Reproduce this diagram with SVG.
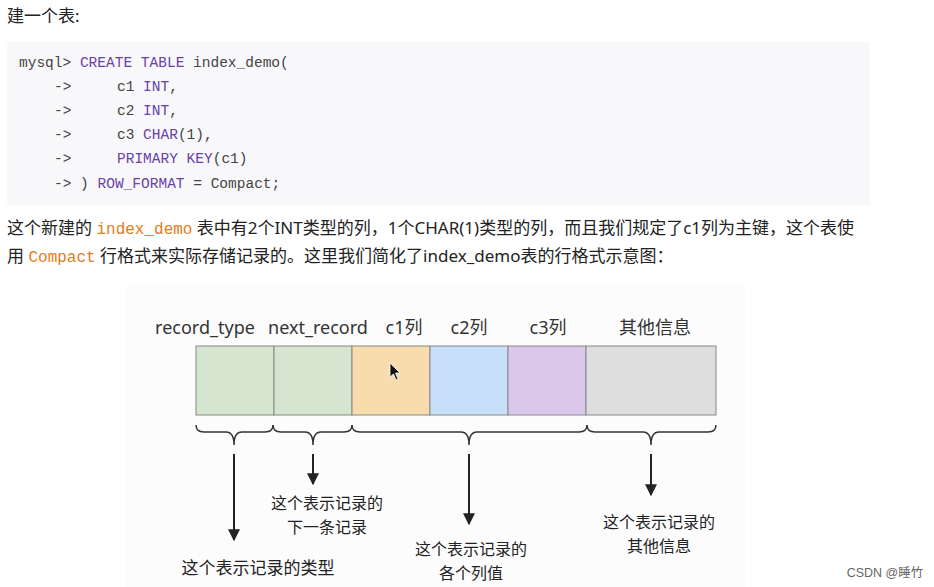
<svg xmlns="http://www.w3.org/2000/svg" width="934" height="587" viewBox="0 0 934 587">
<style>
.t{font-family:"Noto Sans","Noto Sans CJK SC",sans-serif;fill:#222}
.h{font-size:17px}
.p{font-size:17px}
.m{font-family:"Liberation Mono","Noto Sans CJK SC",monospace;font-size:14.5px;fill:#444}
.k{fill:#6b3fa8}
.o{font-family:"Liberation Mono",monospace;font-size:16px;fill:#e07c1a}
.lab{font-family:"Noto Sans","Noto Sans CJK SC",sans-serif;font-size:18px;fill:#333;text-anchor:middle}
.cap{font-family:"Noto Sans CJK SC",sans-serif;font-size:17px;fill:#222;text-anchor:middle}
.cap2{font-family:"Noto Sans CJK SC",sans-serif;font-size:16px;fill:#222;text-anchor:middle}
.cell{stroke:#888;stroke-width:1}
.br{fill:none;stroke:#333;stroke-width:1.5}
.ar{stroke:#222;stroke-width:2;marker-end:url(#ah)}
</style>
<defs>
<marker id="ah" viewBox="0 0 10 10" refX="9" refY="5" markerWidth="6" markerHeight="6" markerUnits="strokeWidth" orient="auto">
<path d="M0,0 L10,5 L0,10 Z" fill="#222"/>
</marker>
</defs>
<rect width="934" height="587" fill="#ffffff"/>
<text class="t h" x="7" y="22">建一个表:</text>
<rect x="7" y="42" width="863" height="163" fill="#f8f8fa"/>
<g id="code">
<text class="m" x="19" y="67">mysql&gt; <tspan class="k">CREATE TABLE</tspan> index_demo(</text>
<text class="m" x="54" y="91">-&gt;</text><text class="m" x="117" y="91">c1 <tspan class="k">INT</tspan>,</text>
<text class="m" x="54" y="115">-&gt;</text><text class="m" x="117" y="115">c2 <tspan class="k">INT</tspan>,</text>
<text class="m" x="54" y="139">-&gt;</text><text class="m" x="117" y="139">c3 <tspan class="k">CHAR</tspan>(1),</text>
<text class="m" x="54" y="163">-&gt;</text><text class="m" x="117" y="163"><tspan class="k">PRIMARY KEY</tspan>(c1)</text>
<text class="m" x="54" y="188">-&gt; ) <tspan class="k">ROW_FORMAT</tspan> = Compact;</text>
</g>
<text class="t p" x="7" y="234">这个新建的 <tspan class="o">index_demo</tspan> 表中有2个INT类型的列，1个CHAR(1)类型的列，而且我们规定了c1列为主键，这个表使</text>
<text class="t p" x="7" y="262">用 <tspan class="o">Compact</tspan> 行格式来实际存储记录的。这里我们简化了index_demo表的行格式示意图：</text>
<rect x="125" y="285" width="620" height="302" fill="#fcfcfd"/>
<g id="labels">
<text class="lab" x="205" y="334">record_type</text>
<text class="lab" x="318" y="334">next_record</text>
<text class="lab" x="404" y="334">c1列</text>
<text class="lab" x="469" y="334">c2列</text>
<text class="lab" x="548" y="334">c3列</text>
<text class="lab" x="655" y="334">其他信息</text>
</g>
<g id="record_type"><rect class="cell" x="196" y="346" width="78" height="69" fill="#d5e5cf"/></g>
<g id="next_record"><rect class="cell" x="274" y="346" width="78" height="69" fill="#d5e5cf"/></g>
<g id="c1"><rect class="cell" x="352" y="346" width="78" height="69" fill="#f8dcad"/></g>
<g id="c2"><rect class="cell" x="430" y="346" width="78" height="69" fill="#c8dffa"/></g>
<g id="c3"><rect class="cell" x="508" y="346" width="78" height="69" fill="#dbc7ea"/></g>
<g id="other"><rect class="cell" x="586" y="346" width="130" height="69" fill="#dedede"/></g>
<path d="M390,363 L390,377 L393.5,374 L396,380 L398,379 L395.5,373 L400,373 Z" fill="#111" stroke="#fff" stroke-width="0.8"/>
<g id="connectors">
<path class="br" d="M196,425 Q196,432 204,432 L226,432 Q234,432 234,445 Q234,432 242,432 L265,432 Q273,432 273,425"/>
<path class="br" d="M273,425 Q273,432 281,432 L305,432 Q313,432 313,445 Q313,432 321,432 L344,432 Q352,432 352,425"/>
<path class="br" d="M352,425 Q352,432 360,432 L461,432 Q469,432 469,445 Q469,432 477,432 L579,432 Q587,432 587,425"/>
<path class="br" d="M587,425 Q587,432 595,432 L643,432 Q651,432 651,445 Q651,432 659,432 L708,432 Q716,432 716,425"/>
<line class="ar" x1="234" y1="454" x2="234" y2="540"/>
<line class="ar" x1="313" y1="454" x2="313" y2="484"/>
<line class="ar" x1="469" y1="454" x2="469" y2="524"/>
<line class="ar" x1="651" y1="454" x2="651" y2="495"/>
</g>
<g id="cap1"><text class="cap" x="258" y="574">这个表示记录的类型</text></g>
<g id="cap2"><text class="cap2" x="327" y="509">这个表示记录的</text><text class="cap2" x="327" y="532.5">下一条记录</text></g>
<g id="cap3"><text class="cap2" x="471" y="555">这个表示记录的</text><text class="cap2" x="471" y="578.5">各个列值</text></g>
<g id="cap4"><text class="cap2" x="659" y="528">这个表示记录的</text><text class="cap2" x="659" y="551.5">其他信息</text></g>
<text x="885" y="577" font-family="Liberation Sans,Noto Sans CJK SC,sans-serif" font-size="12.5" fill="#666" text-anchor="middle">CSDN @睡竹</text>
</svg>
